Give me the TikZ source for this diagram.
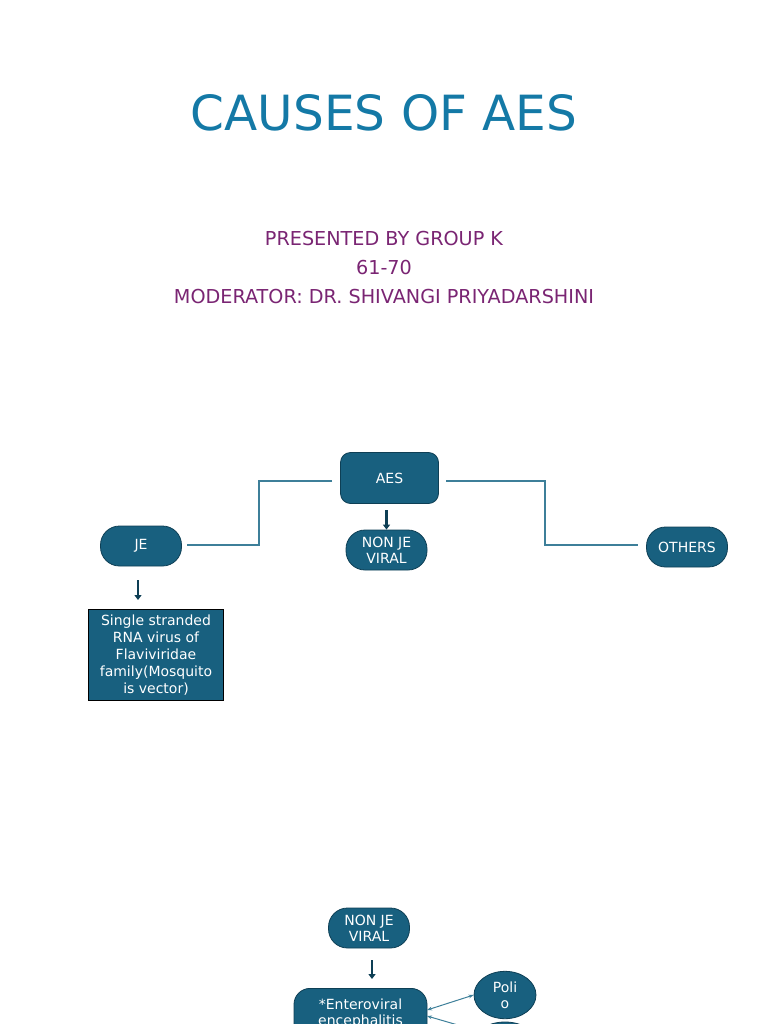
\documentclass[tikz,border=0pt]{standalone}
\usepackage{fontspec}
\setmainfont{DejaVu Sans}
\usetikzlibrary{shapes.geometric,arrows.meta}
\definecolor{nb}{HTML}{18607F}
\definecolor{nd}{HTML}{0E3F55}
\definecolor{ttl}{HTML}{1479A6}
\definecolor{pur}{HTML}{7A2573}
\definecolor{ln}{HTML}{3D7F99}
\tikzset{
 rbox/.style={draw=nd,fill=nb,rounded corners=10pt,text=white,font=\fontsize{14}{16}\selectfont,align=center,line width=0.8pt},
 pill/.style={rbox,rounded corners=19pt},
 sqbox/.style={draw=black,fill=nb,text=white,font=\fontsize{14}{17}\selectfont,align=center,line width=0.8pt,inner sep=2pt},
 oval/.style={ellipse,draw=nd,fill=nb,text=white,font=\fontsize{14}{16}\selectfont,align=center,line width=0.8pt},
 link/.style={draw=ln,line width=1.1pt},
 darr/.style={draw=nd,line width=2.2pt,-{Triangle[length=5pt,width=7pt]}},
 biarrow/.style={draw=ln,line width=1pt,{Stealth[length=5pt]}-{Stealth[length=5pt]}}
}
\begin{document}
\begin{tikzpicture}[x=1pt,y=-1pt]
\useasboundingbox (0,0) rectangle (768,1024);
\clip (0,0) rectangle (768,1024);
\node[text=ttl,font=\fontsize{48.5}{52}\selectfont] (title) at (384,113) {CAUSES OF AES};
\node[text=pur,font=\fontsize{19.2}{29}\selectfont,align=center] (sub) at (384,268) {PRESENTED BY GROUP K\\61-70\\MODERATOR: DR. SHIVANGI PRIYADARSHINI};
\node[rbox,minimum width=98pt,minimum height=51pt] (aes) at (389.5,478) {AES};
\node[pill,minimum width=81pt,minimum height=40pt] (je) at (141,546) {JE};
\node[pill,minimum width=81pt,minimum height=40pt] (nj) at (386.5,550) {NON JE\\VIRAL};
\node[pill,minimum width=81pt,minimum height=40pt] (ot) at (687,547) {OTHERS};
\node[sqbox,minimum width=135pt,minimum height=91pt] (rna) at (156,655) {Single stranded\\RNA virus of\\Flaviviridae\\family(Mosquito\\is vector)};
\coordinate (al) at (332,481); \coordinate (ar) at (446,481);
\coordinate (jr) at (187,545); \coordinate (or) at (638,545);
\coordinate (ja) at (138,580); \coordinate (jb) at (138,600);
\coordinate (na) at (386.5,510);
\draw[link] (al) -- (259,481) |- (jr);
\draw[link] (ar) -- (545,481) |- (or);
\draw[darr] (na) -- (nj.north);
\draw[darr] (ja) -- (jb);
\node[pill,minimum width=81pt,minimum height=40pt] (nj2) at (369,928) {NON JE\\VIRAL};
\node[rbox,rounded corners=16pt,minimum width=133pt,minimum height=80pt,anchor=north] (ent) at (360.5,988) {*Enteroviral\\encephalitis\\ \\ };
\coordinate (ea) at (372,960); \coordinate (eb) at (372,979);
\draw[darr] (ea) -- (eb);
\node[oval,minimum width=62pt,minimum height=40pt] (polio) at (505,995) {Poli\\o};
\node[oval,minimum width=62pt,minimum height=40pt] (e2) at (505,1042) {};
\node[font=\fontsize{14}{16}\selectfont,anchor=west] (cox) at (560,1030) {Coxsackie};
\coordinate (p1) at (427,1010); \coordinate (p2) at (427,1016); \coordinate (p3) at (475,1030);
\draw[biarrow] (p1) -- (polio.west);
\draw[biarrow] (p2) -- (p3);
\end{tikzpicture}
\end{document}
